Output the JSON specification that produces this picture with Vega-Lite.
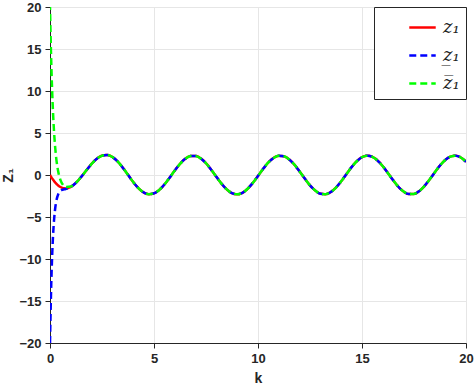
{
  "$schema": "https://vega.github.io/schema/vega-lite/v6.json",
  "width": 416,
  "height": 336,
  "autosize": {"type": "none"},
  "padding": {"left": 50, "top": 7, "right": 8, "bottom": 43},
  "config": {
    "view": {"stroke": "#262626", "strokeWidth": 1},
    "axis": {
      "labelFont": "Liberation Sans", "labelFontSize": 13, "labelFontWeight": "bold", "labelColor": "#262626",
      "titleFont": "Liberation Sans", "titleFontSize": 14, "titleFontWeight": "bold", "titleColor": "#262626",
      "domainColor": "#262626", "tickColor": "#262626", "gridColor": "#e6e6e6", "gridWidth": 1
    },
    "legend": {
      "title": null, "orient": "top-right", "offset": 0, "strokeColor": "#262626", "fillColor": "white",
      "padding": 6, "rowPadding": 4, "symbolOffset": 28, "symbolType": "stroke", "symbolSize": 700, "symbolStrokeWidth": 2.5,
      "labelFont": "DejaVu Serif", "labelFontStyle": "italic", "labelFontSize": 18, "labelColor": "#222222", "labelOffset": 6, "cornerRadius": 0
    }
  },
  "data": {"values": [
    {"k": 0, "z": 0, "lo": -20, "hi": 20},
    {"k": 0.05, "z": -0.21, "lo": -13.96, "hi": 14.39},
    {"k": 0.1, "z": -0.40, "lo": -9.85, "hi": 10.25},
    {"k": 0.15, "z": -0.57, "lo": -7.06, "hi": 7.2},
    {"k": 0.2, "z": -0.74, "lo": -5.2, "hi": 4.93},
    {"k": 0.25, "z": -0.89, "lo": -3.96, "hi": 3.25},
    {"k": 0.3, "z": -1.03, "lo": -3.14, "hi": 1.99},
    {"k": 0.4, "z": -1.26, "lo": -2.26, "hi": 0.35},
    {"k": 0.5, "z": -1.43, "lo": -1.90, "hi": -0.57},
    {"k": 0.6, "z": -1.54, "lo": -1.76, "hi": -1.08},
    {"k": 0.75, "z": -1.60, "lo": -1.67, "hi": -1.42},
    {"k": 1, "z": -1.41, "lo": -1.42, "hi": -1.37},
    {"k": 1.25, "z": -0.92, "lo": -0.92, "hi": -0.92},
    {"k": 1.5, "z": -0.22, "lo": -0.22, "hi": -0.22},
    {"k": 1.75, "z": 0.56, "lo": 0.56, "hi": 0.56},
    {"k": 2, "z": 1.32, "lo": 1.32, "hi": 1.32},
    {"k": 2.25, "z": 1.93, "lo": 1.93, "hi": 1.93},
    {"k": 2.5, "z": 2.30, "lo": 2.30, "hi": 2.30},
    {"k": 2.75, "z": 2.38, "lo": 2.38, "hi": 2.38},
    {"k": 3, "z": 2.14, "lo": 2.14, "hi": 2.14},
    {"k": 3.25, "z": 1.61, "lo": 1.61, "hi": 1.61},
    {"k": 3.5, "z": 0.87, "lo": 0.87, "hi": 0.87},
    {"k": 3.75, "z": 0.02, "lo": 0.02, "hi": 0.02},
    {"k": 4, "z": -0.83, "lo": -0.83, "hi": -0.83},
    {"k": 4.25, "z": -1.56, "lo": -1.56, "hi": -1.56},
    {"k": 4.5, "z": -2.07, "lo": -2.07, "hi": -2.07},
    {"k": 4.75, "z": -2.28, "lo": -2.28, "hi": -2.28},
    {"k": 5, "z": -2.18, "lo": -2.18, "hi": -2.18},
    {"k": 5.25, "z": -1.78, "lo": -1.78, "hi": -1.78},
    {"k": 5.5, "z": -1.13, "lo": -1.13, "hi": -1.13},
    {"k": 5.75, "z": -0.32, "lo": -0.32, "hi": -0.32},
    {"k": 6, "z": 0.54, "lo": 0.54, "hi": 0.54},
    {"k": 6.25, "z": 1.32, "lo": 1.32, "hi": 1.32},
    {"k": 6.5, "z": 1.92, "lo": 1.92, "hi": 1.92},
    {"k": 6.75, "z": 2.25, "lo": 2.25, "hi": 2.25},
    {"k": 7, "z": 2.27, "lo": 2.27, "hi": 2.27},
    {"k": 7.25, "z": 1.97, "lo": 1.97, "hi": 1.97},
    {"k": 7.5, "z": 1.40, "lo": 1.40, "hi": 1.40},
    {"k": 7.75, "z": 0.63, "lo": 0.63, "hi": 0.63},
    {"k": 8, "z": -0.22, "lo": -0.22, "hi": -0.22},
    {"k": 8.25, "z": -1.04, "lo": -1.04, "hi": -1.04},
    {"k": 8.5, "z": -1.72, "lo": -1.72, "hi": -1.72},
    {"k": 8.75, "z": -2.16, "lo": -2.16, "hi": -2.16},
    {"k": 9, "z": -2.30, "lo": -2.30, "hi": -2.30},
    {"k": 9.25, "z": -2.12, "lo": -2.12, "hi": -2.12},
    {"k": 9.5, "z": -1.64, "lo": -1.64, "hi": -1.64},
    {"k": 9.75, "z": -0.94, "lo": -0.94, "hi": -0.94},
    {"k": 10, "z": -0.11, "lo": -0.11, "hi": -0.11},
    {"k": 10.25, "z": 0.74, "lo": 0.74, "hi": 0.74},
    {"k": 10.5, "z": 1.49, "lo": 1.49, "hi": 1.49},
    {"k": 10.75, "z": 2.03, "lo": 2.03, "hi": 2.03},
    {"k": 11, "z": 2.28, "lo": 2.28, "hi": 2.28},
    {"k": 11.25, "z": 2.22, "lo": 2.22, "hi": 2.22},
    {"k": 11.5, "z": 1.85, "lo": 1.85, "hi": 1.85},
    {"k": 11.75, "z": 1.23, "lo": 1.23, "hi": 1.23},
    {"k": 12, "z": 0.43, "lo": 0.43, "hi": 0.43},
    {"k": 12.25, "z": -0.43, "lo": -0.43, "hi": -0.43},
    {"k": 12.5, "z": -1.23, "lo": -1.23, "hi": -1.23},
    {"k": 12.75, "z": -1.85, "lo": -1.85, "hi": -1.85},
    {"k": 13, "z": -2.22, "lo": -2.22, "hi": -2.22},
    {"k": 13.25, "z": -2.28, "lo": -2.28, "hi": -2.28},
    {"k": 13.5, "z": -2.03, "lo": -2.03, "hi": -2.03},
    {"k": 13.75, "z": -1.49, "lo": -1.49, "hi": -1.49},
    {"k": 14, "z": -0.75, "lo": -0.75, "hi": -0.75},
    {"k": 14.25, "z": 0.10, "lo": 0.10, "hi": 0.10},
    {"k": 14.5, "z": 0.94, "lo": 0.94, "hi": 0.94},
    {"k": 14.75, "z": 1.64, "lo": 1.64, "hi": 1.64},
    {"k": 15, "z": 2.12, "lo": 2.12, "hi": 2.12},
    {"k": 15.25, "z": 2.30, "lo": 2.30, "hi": 2.30},
    {"k": 15.5, "z": 2.16, "lo": 2.16, "hi": 2.16},
    {"k": 15.75, "z": 1.72, "lo": 1.72, "hi": 1.72},
    {"k": 16, "z": 1.04, "lo": 1.04, "hi": 1.04},
    {"k": 16.25, "z": 0.22, "lo": 0.22, "hi": 0.22},
    {"k": 16.5, "z": -0.63, "lo": -0.63, "hi": -0.63},
    {"k": 16.75, "z": -1.40, "lo": -1.40, "hi": -1.40},
    {"k": 17, "z": -1.97, "lo": -1.97, "hi": -1.97},
    {"k": 17.25, "z": -2.27, "lo": -2.27, "hi": -2.27},
    {"k": 17.5, "z": -2.25, "lo": -2.25, "hi": -2.25},
    {"k": 17.75, "z": -1.92, "lo": -1.92, "hi": -1.92},
    {"k": 18, "z": -1.32, "lo": -1.32, "hi": -1.32},
    {"k": 18.25, "z": -0.54, "lo": -0.54, "hi": -0.54},
    {"k": 18.5, "z": 0.32, "lo": 0.32, "hi": 0.32},
    {"k": 18.75, "z": 1.13, "lo": 1.13, "hi": 1.13},
    {"k": 19, "z": 1.78, "lo": 1.78, "hi": 1.78},
    {"k": 19.25, "z": 2.19, "lo": 2.19, "hi": 2.19},
    {"k": 19.5, "z": 2.30, "lo": 2.30, "hi": 2.30},
    {"k": 19.75, "z": 2.08, "lo": 2.08, "hi": 2.08},
    {"k": 20, "z": 1.58, "lo": 1.58, "hi": 1.58}
  ]},
  "encoding": {
    "x": {"field": "k", "type": "quantitative", "scale": {"domain": [0, 20], "nice": false},
      "axis": {"title": "k", "values": [0, 5, 10, 15, 20], "tickSize": 5, "labelPadding": 4, "titlePadding": 6, "labelFlush": false}}
  },
  "layer": [
    {
      "mark": {"type": "line", "strokeWidth": 2.5, "interpolate": "monotone", "clip": true},
      "encoding": {
        "y": {"field": "z", "type": "quantitative", "scale": {"domain": [-20, 20], "nice": false},
          "axis": {"title": "Z₁", "values": [-20, -15, -10, -5, 0, 5, 10, 15, 20], "tickSize": 5, "labelPadding": 4, "titlePadding": 3}},
        "color": {"datum": "z₁", "type": "nominal",
          "scale": {"domain": ["z₁", "z\u0332₁", "z\u0305₁"], "range": ["#ff0000", "#0000ff", "#00ff00"]}},
        "strokeDash": {"datum": "z₁", "type": "nominal",
          "scale": {"domain": ["z₁", "z\u0332₁", "z\u0305₁"], "range": [[1, 0], [7, 4], [7, 4]]}}
      }
    },
    {
      "mark": {"type": "line", "strokeWidth": 2.5, "interpolate": "monotone", "clip": true},
      "encoding": {
        "y": {"field": "lo", "type": "quantitative"},
        "color": {"datum": "z\u0332₁", "type": "nominal"},
        "strokeDash": {"datum": "z\u0332₁", "type": "nominal"}
      }
    },
    {
      "mark": {"type": "line", "strokeWidth": 2.5, "interpolate": "monotone", "clip": true, "strokeDashOffset": 4},
      "encoding": {
        "y": {"field": "hi", "type": "quantitative"},
        "color": {"datum": "z\u0305₁", "type": "nominal"},
        "strokeDash": {"datum": "z\u0305₁", "type": "nominal"}
      }
    }
  ]
}
